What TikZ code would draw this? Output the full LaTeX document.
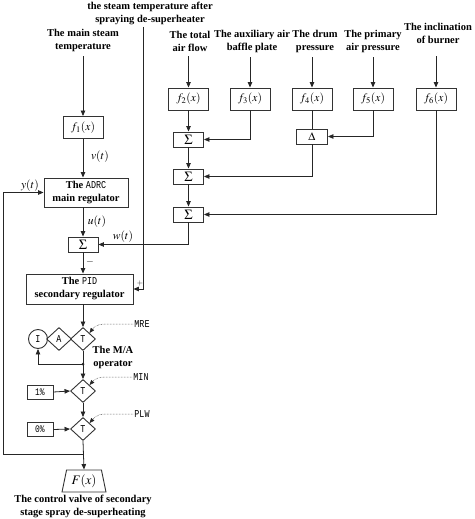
\documentclass[tikz,border=0pt]{standalone}
\usepackage{mathptmx}
\usepackage{fontspec}
\setmainfont{Liberation Serif}
\newfontfamily\monof{Liberation Mono}[FakeStretch=0.8]
\usetikzlibrary{arrows.meta,shapes.geometric}
\begin{document}
\begin{tikzpicture}[x=1pt,y=-1pt,
  ln/.style={line width=0.8pt, draw=black!85},
  arr/.style={ln, -{Triangle[length=5.5pt,width=4.5pt]}},
  dotarr/.style={densely dotted, line width=0.5pt, draw=black!85, -{Triangle[length=5pt,width=4pt]}},
  box/.style={draw=black!80, line width=0.9pt, inner sep=0pt},
  fbox/.style={box, minimum width=40pt, minimum height=22pt, font=\fontsize{11.5}{12}\selectfont},
  sbox/.style={box, minimum width=30pt, minimum height=15pt, font=\fontsize{14}{14}\selectfont},
  lbl/.style={font=\bfseries\fontsize{10.5}{13}\selectfont, align=center, inner sep=1pt},
  mono/.style={font=\monof\fontsize{10.5}{11}\selectfont, inner sep=1pt},
  dia/.style={diamond, draw=black!80, line width=0.9pt, minimum width=25pt, minimum height=23pt, inner sep=0pt, font=\monof\fontsize{10.5}{10}\selectfont},
  sig/.style={font=\fontsize{11.5}{12}\selectfont, inner sep=1pt}
]
\useasboundingbox (0,0) rectangle (474,519);

% top labels
\node[lbl] (tafter) at (150,13) {the steam temperature after\\spraying de-superheater};
\node[lbl] (tmain) at (83,40) {The main steam\\temperature};
\node[lbl] (l2) at (190,41) {The total\\air flow};
\node[lbl] (l3) at (252,41) {The auxiliary air\\baffle plate};
\node[lbl] (l4) at (315,41) {The drum\\pressure};
\node[lbl] (l5) at (373,41) {The primary\\air pressure};
\node[lbl] (l6) at (438,33) {The inclination\\of burner};

% main column
\node[fbox] (f1) at (83,127.5) {$f_1(x)$};
\node[box, minimum width=84pt, minimum height=29pt, lbl] (adrc) at (86,192.5) {The {\monof\mdseries\fontsize{10.5}{10}\selectfont ADRC}\\main regulator};
\node[sbox] (sum0) at (83,244.5) {$\Sigma$};
\node[box, minimum width=107pt, minimum height=30pt, lbl] (pid) at (79.5,289) {The {\monof\mdseries\fontsize{10.5}{10}\selectfont PID}\\secondary regulator};

% right column
\node[fbox] (f2) at (188.5,99) {$f_2(x)$};
\node[fbox] (f3) at (250,99) {$f_3(x)$};
\node[fbox] (f4) at (312,99) {$f_4(x)$};
\node[fbox] (f5) at (373,99) {$f_5(x)$};
\node[fbox] (f6) at (436,99) {$f_6(x)$};
\node[sbox] (s1) at (188.5,139.5) {$\Sigma$};
\node[sbox] (s2) at (188.5,176.5) {$\Sigma$};
\node[sbox] (s3) at (188.5,214.5) {$\Sigma$};
\node[box, minimum width=31pt, minimum height=15pt, font=\fontsize{11.5}{12}\selectfont] (delta) at (312,136.5) {$\Delta$};

% lower part
\node[dia] (T1) at (83,339) {T};
\node[dia] (A) at (59,339) {A};
\node[circle, draw=black!80, line width=0.9pt, minimum size=19pt, inner sep=0pt, font=\monof\fontsize{10.5}{10}\selectfont] (I) at (38,339) {I};
\node[dia] (T2) at (83,391) {T};
\node[dia] (T3) at (83,429) {T};
\node[box, minimum width=26pt, minimum height=14pt, font=\monof\fontsize{10}{10}\selectfont] (p1) at (40,392) {1\%};
\node[box, minimum width=26pt, minimum height=14pt, font=\monof\fontsize{10}{10}\selectfont] (p0) at (40,429.5) {0\%};
\node[trapezium, draw=black!80, line width=0.9pt, trapezium stretches=true, trapezium angle=76, minimum width=44pt, minimum height=22pt, inner sep=0pt, font=\fontsize{13}{13}\selectfont] (Fx) at (84,481) {$F(x)$};
\node[lbl] (cap) at (83,506) {The control valve of secondary\\stage spray de-superheating};
\node[lbl] (ma) at (113,357) {The M/A\\operator};

\node[mono] (mre) at (142,324) {MRE};
\node[mono] (mmin) at (141,377) {MIN};
\node[mono] (plw) at (142,414) {PLW};

% signal labels
\node[sig] (vt) at (100,157) {$v(t)$};
\node[sig] (ut) at (97,222) {$u(t)$};
\node[sig] (yt) at (30,186) {$y(t)$};
\node[sig] (wt) at (123,237) {$w(t)$};
\node[font=\fontsize{10}{10}\selectfont, inner sep=0pt] (minus) at (90,262) {$-$};
\node[font=\fontsize{8}{8}\selectfont, inner sep=0pt] (plus) at (140,283) {$+$};

\coordinate (ta) at (143,27);
\coordinate (dot) at (83,364);
\coordinate (join) at (83,454);
\coordinate (fb) at (3,454);

% connectors main column
\draw[arr] (ta) |- (pid.east);
\draw[arr] (f1 |- tmain.south) ++(0,4) -- (f1.north);
\draw[arr] (f1.south) -- (f1.south |- adrc.north);
\draw[arr] (f1.south |- adrc.south) -- (sum0.north);
\draw[arr] (sum0.south) -- (sum0.south |- pid.north);
\draw[arr] (sum0.south |- pid.south) -- (T1.north);
\draw[ln] (T1.south) -- (dot);
\draw[arr] (dot) -- (T2.north);
\draw[arr] (dot) -| (I.south);
\fill[black!85] (dot) circle (1.5pt);
\draw[arr] (T2.south) -- (T3.north);
\draw[arr] (T3.south) -- (Fx.north);
\draw[arr] (join) -- (fb) |- (adrc.west);
\draw[arr] (p1.east) -- (T2.west);
\draw[arr] (p0.east) -- (T3.west);

% right column connectors
\draw[arr] (f2 |- l2.south) ++(0,4) -- (f2.north);
\draw[arr] (f3 |- l3.south) ++(0,4) -- (f3.north);
\draw[arr] (f4 |- l4.south) ++(0,4) -- (f4.north);
\draw[arr] (f5 |- l5.south) ++(0,4) -- (f5.north);
\draw[arr] (f6 |- l2.south) ++(0,4) -- (f6.north);
\draw[arr] (f2.south) -- (s1.north);
\draw[arr] (f3.south) |- (s1.east);
\draw[ln] (f4.south) -- (delta.north);
\draw[arr] (f5.south) |- (delta.east);
\draw[arr] (delta.south) |- (s2.east);
\draw[arr] (f6.south) |- (s3.east);
\draw[arr] (s1.south) -- (s2.north);
\draw[arr] (s2.south) -- (s3.north);
\draw[arr] (s3.south) |- (sum0.east);

% dotted pointers
\draw[dotarr] (mre.west) -- (104,324) .. controls (98,324) and (94,327) .. (T1.north east);
\draw[dotarr] (mmin.west) -- (104,377) .. controls (98,377) and (94,380) .. (T2.north east);
\draw[dotarr] (plw.west) -- (104,414) .. controls (98,414) and (94,418) .. (T3.north east);
\end{tikzpicture}
\end{document}
